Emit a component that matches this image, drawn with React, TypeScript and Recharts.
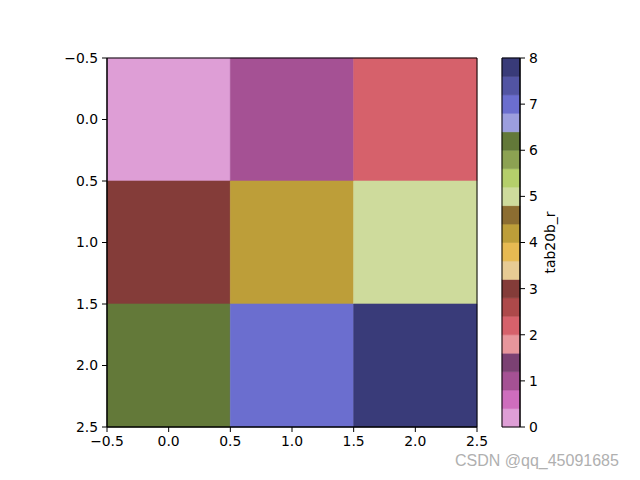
import React from 'react';
import { ComposedChart, Scatter, XAxis, YAxis, ReferenceArea } from 'recharts';

// ---- data ----
const rowIndex = [0, 1, 2];
const colIndex = [0, 1, 2];
const values = [
  [0, 1, 2],
  [3, 4, 5],
  [6, 7, 8],
];
const axisTicks = [-0.5, 0, 0.5, 1, 1.5, 2, 2.5];
const colorbarTicks = [0, 1, 2, 3, 4, 5, 6, 7, 8];
const vmin = 0;
const vmax = 8;
const cmapName = 'tab20b_r';
const watermark = 'CSDN @qq_45091685';

// tab20b reversed palette
const palette = [
  '#de9ed6', '#ce6dbd', '#a55194', '#7b4173',
  '#e7969c', '#d6616b', '#ad494a', '#843c39',
  '#e7cb94', '#e7ba52', '#bd9e39', '#8c6d31',
  '#cedb9c', '#b5cf6b', '#8ca252', '#637939',
  '#9c9ede', '#6b6ecf', '#5254a3', '#393b79',
];

const colorFor = (v: number) => {
  const n = palette.length;
  let i = Math.floor(((v - vmin) / (vmax - vmin)) * n);
  if (i >= n) i = n - 1;
  if (i < 0) i = 0;
  return palette[i];
};

const cells = rowIndex.flatMap((r) =>
  colIndex.map((c) => ({ x: c, y: r, v: values[r][c] }))
);

const bands = palette.map((color, i) => ({
  x: 0.5,
  y: vmin + ((i + 0.5) * (vmax - vmin)) / palette.length,
  y1: vmin + (i * (vmax - vmin)) / palette.length,
  y2: vmin + ((i + 1) * (vmax - vmin)) / palette.length,
  color,
}));

const FONT = 'DejaVu Sans, sans-serif';
const FS = 13.9;
const fmt = (v: number) => v.toFixed(1).replace('-', '\u2212');
const tickStyle = { fill: '#000', fontSize: FS, fontFamily: FONT };

export default function App() {
  return (
    <div style={{ position: 'absolute', left: 0, top: 0, width: 640, height: 480, background: '#fff' }}>
      <div style={{ position: 'absolute', left: 0, top: 0 }}>
        <ComposedChart width={640} height={480} data={cells} margin={{ top: 58, right: 163, bottom: 23, left: 67 }}>
          <XAxis
            dataKey="x"
            type="number"
            domain={[-0.5, 2.5]}
            ticks={axisTicks}
            tickFormatter={fmt}
            allowDataOverflow
            height={30}
            tickSize={5}
            tickMargin={4}
            stroke="#000"
            tick={tickStyle}
            interval={0}
          />
          <YAxis
            dataKey="y"
            type="number"
            domain={[-0.5, 2.5]}
            ticks={axisTicks}
            tickFormatter={fmt}
            reversed
            allowDataOverflow
            width={40}
            tickSize={5}
            tickMargin={4}
            stroke="#000"
            tick={tickStyle}
            interval={0}
          />
          {cells.map((c) => (
            <ReferenceArea
              key={`${c.x}-${c.y}`}
              x1={c.x - 0.5}
              x2={c.x + 0.5}
              y1={c.y - 0.5}
              y2={c.y + 0.5}
              fill={colorFor(c.v)}
              fillOpacity={1}
              stroke={colorFor(c.v)}
              strokeWidth={0.6}
              ifOverflow="visible"
            />
          ))}
          <ReferenceArea
            x1={-0.5}
            x2={2.5}
            y1={-0.5}
            y2={2.5}
            fill="none"
            stroke="#000"
            strokeWidth={1}
            ifOverflow="visible"
          />
          <Scatter dataKey="y" isAnimationActive={false} fillOpacity={0} />
        </ComposedChart>
      </div>
      <div style={{ position: 'absolute', left: 0, top: 0 }}>
        <ComposedChart width={640} height={480} data={bands} margin={{ top: 58, right: 56, bottom: 53, left: 502 }}>
          <XAxis type="number" dataKey="x" domain={[0, 1]} hide allowDataOverflow />
          <YAxis
            dataKey="y"
            type="number"
            orientation="right"
            domain={[vmin, vmax]}
            ticks={colorbarTicks}
            allowDataOverflow
            width={64}
            tickSize={5}
            tickMargin={4}
            stroke="#000"
            tick={{ ...tickStyle, textAnchor: 'start' }}
            interval={0}
            label={{ value: cmapName, angle: -90, position: 'center', dx: -2, style: { fill: '#000', fontSize: FS, fontFamily: FONT } }}
          />
          {bands.map((b, i) => (
            <ReferenceArea
              key={i}
              x1={0}
              x2={1}
              y1={b.y1}
              y2={b.y2}
              fill={b.color}
              fillOpacity={1}
              stroke={b.color}
              strokeWidth={0.6}
              ifOverflow="visible"
            />
          ))}
          <ReferenceArea x1={0} x2={1} y1={vmin} y2={vmax} fill="none" stroke="#000" strokeWidth={1} ifOverflow="visible" />
          <Scatter dataKey="y" isAnimationActive={false} fillOpacity={0} />
        </ComposedChart>
      </div>
      <div
        style={{
          position: 'absolute',
          left: 455,
          top: 452,
          fontFamily: 'Liberation Sans, Arial, sans-serif',
          fontSize: 16,
          color: '#b0b0b0',
          whiteSpace: 'nowrap',
        }}
      >
        {watermark}
      </div>
    </div>
  );
}
